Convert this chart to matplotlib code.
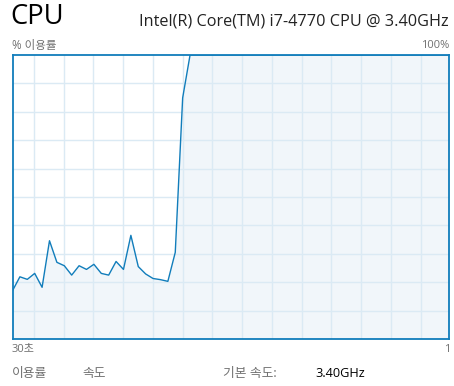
import matplotlib
matplotlib.use("Agg")
import matplotlib.pyplot as plt
import numpy as np

plt.rcParams['font.family'] = ['Open Sans', 'Noto Sans CJK KR', 'DejaVu Sans']

# CPU usage (%) for 60 samples over the last 30 seconds (oldest first)
usage = [17.0, 21.9, 21.0, 23.1, 18.2, 34.6, 27.0, 25.8, 22.5, 25.8,
         24.5, 26.3, 23.1, 22.5, 27.3, 24.5, 36.5, 25.5, 22.9, 21.3,
         20.9, 20.3, 30.5, 84.9] + [100.0] * 36
title = "CPU"
cpu_name = "Intel(R) Core(TM) i7-4770 CPU @ 3.40GHz"
y_label = "% 이용률"
y_max_label = "100%"
x_left_label = "30초"
x_right_label = "1"
footer_labels = ["이용률", "속도", "기본 속도:"]
footer_value = "3.40GHz"

W, H = 454, 386
fig = plt.figure(figsize=(W / 100, H / 100), dpi=100)
fig.patch.set_facecolor('white')

left, right, top, bottom = 12.5, 449, 55, 339
ax = fig.add_axes([left / W, 1 - bottom / H, (right - left) / W, (bottom - top) / H])

line_c = '#117dbb'
grid_c = '#dbeaf4'
fill_c = '#f1f6fa'

x = np.arange(len(usage))
ax.set_xlim(0, len(usage) - 1)
ax.set_ylim(0, 100)

# grid (scrolling offset)
for gx in np.arange(2.9, len(usage) - 1, 4.02):
    ax.axvline(gx, color=grid_c, lw=1.0, zorder=1)
for gy in range(10, 100, 10):
    ax.axhline(gy, color=grid_c, lw=1.0, zorder=1)

ax.fill_between(x, usage, 0, color=fill_c, zorder=0.5, lw=0)
ax.plot(x, usage, color=line_c, lw=1.0, zorder=3, clip_on=True)

ax.set_xticks([])
ax.set_yticks([])
for s in ax.spines.values():
    s.set_color(line_c)
    s.set_linewidth(1.3)
    s.set_zorder(4)

gray = '#707070'

def px(xp, yp):
    return xp / W, 1 - yp / H

fig.text(*px(10, 17), title, fontsize=19.7, color='black', va='center', ha='left')
fig.text(*px(449, 21), cpu_name, fontsize=11.7, color='#222222', va='center', ha='right')
fig.text(*px(12, 45.5), y_label, fontsize=8.3, color=gray, va='center', ha='left')
fig.text(*px(449, 45.5), y_max_label, fontsize=8.0, color=gray, va='center', ha='right')
fig.text(*px(12, 349.5), x_left_label, fontsize=8.0, color=gray, va='center', ha='left')
fig.text(*px(450, 349.5), x_right_label, fontsize=8.0, color=gray, va='center', ha='right')

footer_x = [12, 82, 223]
for fx, lab in zip(footer_x, footer_labels):
    fig.text(*px(fx, 373.5), lab, fontsize=9.2, color=gray, va='center', ha='left')
fig.text(*px(315, 373.5), footer_value, fontsize=9.2, color='black', va='center', ha='left')

fig.savefig('out.png', dpi=100, facecolor='white')
